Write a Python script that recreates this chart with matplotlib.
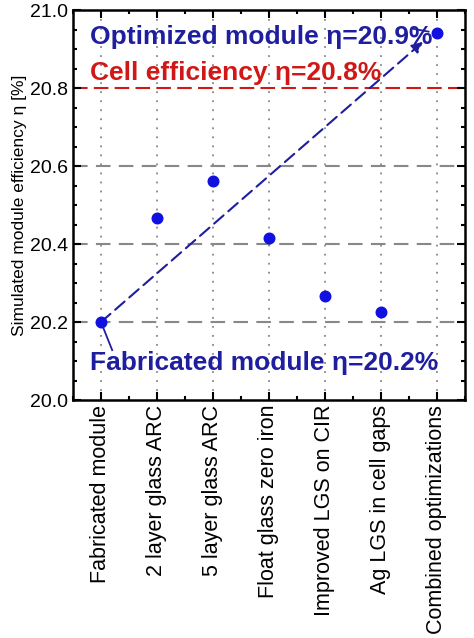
import numpy as np
import matplotlib.pyplot as plt
from matplotlib.ticker import MultipleLocator

plt.rcParams['font.family'] = ['Liberation Sans', 'DejaVu Sans']

# data
categories = ['Fabricated module', '2 layer glass ARC', '5 layer glass ARC',
              'Float glass zero iron', 'Improved LGS on CIR', 'Ag LGS in cell gaps',
              'Combined optimizations']
efficiency = [20.20, 20.466, 20.562, 20.415, 20.268, 20.227, 20.942]
cell_eff = 20.8
grid_levels = [20.2, 20.4, 20.6]

navy = '#1e1e9e'
fig = plt.figure(figsize=(4.74, 6.38), dpi=100)
ax = fig.add_axes([0.154, 0.373, 0.827, 0.611])
x = np.arange(len(categories))

for xi in x:
    ax.axvline(xi, color='#888888', ls=(0, (1, 4)), lw=1.3, zorder=1)
for g in grid_levels:
    ax.axhline(g, color='#888888', ls=(0, (7, 4)), lw=1.5, zorder=1)
ax.axhline(cell_eff, color='#d01818', ls=(0, (7, 3)), lw=1.5, zorder=1)

ax.scatter(x, efficiency, s=58, color='#1010e0', zorder=3)

# arrow from fabricated to optimized
ax.annotate('', xy=(5.75, 20.919), xytext=(x[0], efficiency[0]),
            arrowprops=dict(arrowstyle='-|>', color=navy, lw=1.5, ls=(0, (6, 3)),
                            mutation_scale=16, shrinkA=0, shrinkB=0), zorder=2)

ax.text(-0.2, 20.932, 'Optimized module η=20.9%', color=navy, fontsize=19,
        fontweight='bold', va='center', ha='left')
ax.plot([5.55, 5.85], [20.953, 20.945], color=navy, lw=1.3)
ax.text(-0.2, 20.84, 'Cell efficiency η=20.8%', color='#d01818', fontsize=19,
        fontweight='bold', va='center', ha='left')
ax.text(-0.2, 20.095, 'Fabricated module η=20.2%', color=navy, fontsize=19,
        fontweight='bold', va='center', ha='left')
ax.plot([x[0], 0.2], [efficiency[0], 20.128], color=navy, lw=1.3)

ax.set_xlim(-0.5, 6.5)
ax.set_ylim(20.0, 21.0)
ax.set_xticks(x)
ax.set_xticklabels(categories, rotation=90, fontsize=15.5)
ax.xaxis.set_minor_locator(MultipleLocator(0.5))
ax.yaxis.set_major_locator(MultipleLocator(0.2))
ax.yaxis.set_minor_locator(MultipleLocator(0.05))
ax.yaxis.set_major_formatter(plt.FormatStrFormatter('%.1f'))
ax.tick_params(axis='y', labelsize=14)
ax.tick_params(which='both', direction='in', top=True, right=True, width=1.5)
ax.tick_params(which='major', length=6)
ax.tick_params(which='minor', length=3)
ax.set_ylabel('Simulated module efficiency η [%]', fontsize=12.5, labelpad=2)
for s in ax.spines.values():
    s.set_linewidth(1.8)

fig.savefig('out.png', dpi=100)
